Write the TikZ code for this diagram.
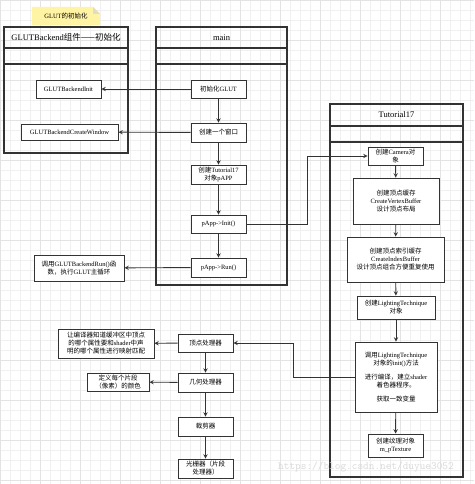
\documentclass[tikz,border=0pt]{standalone}
\usepackage{fontspec}
\setmainfont{Liberation Serif}
\newfontfamily\zhfont{Noto Sans CJK SC}
\newcommand{\zh}[1]{{\zhfont #1}}
\definecolor{notecol}{HTML}{FFF4A3}
\definecolor{inkcol}{HTML}{333333}
\tikzset{>=stealth}
\tikzset{
  box/.style={draw=inkcol, line width=0.9pt, fill=white, inner sep=1pt, align=center,
    font=\fontsize{6.5}{8}\selectfont},
  lane/.style={draw=inkcol, line width=1.2pt},
  lanetitle/.style={font=\fontsize{8.5}{10}\selectfont},
  flow/.style={->, draw=inkcol, line width=0.9pt},
}

\begin{document}
\begin{tikzpicture}[x=1pt,y=-1pt]
    \useasboundingbox (0,0) rectangle (474,484);
    \fill[white] (0,0) rectangle (474,484);
    \draw[gray!12, line width=0.3pt, step=10pt] (0,0) grid (474,484);
    \draw[gray!22, line width=0.3pt, step=40pt] (0,0) grid (474,484);
    % sticky note
    \fill[notecol] (32,7) -- (93,7) -- (100,14) -- (100,25) -- (32,25) -- cycle;
    \fill[notecol!70!black!40] (93,7) -- (100,14) -- (93,14) -- cycle;
    \node[font=\fontsize{6.5}{8}\selectfont] (note) at (66,16) {GLUT\zh{的初始化}};
    % swimlanes
    \draw[lane] (4,27) rectangle (128,153);
    \draw[lane] (4,48) -- (128,48);
    \draw[lane] (4,64) -- (128,64);
    \node[lanetitle] (backend) at (66,37.5) {GLUTBackend\zh{组件——初始化}};
    \draw[lane] (156,27) rectangle (287,285);
    \draw[lane] (156,48) -- (287,48);
    \draw[lane] (156,64) -- (287,64);
    \node[lanetitle] (mainlane) at (221.5,37.5) {main};
    \draw[lane] (330,104) rectangle (463,477);
    \draw[lane] (330,126) -- (463,126);
    \draw[lane] (330,142) -- (463,142);
    \node[lanetitle] (tutlane) at (396.5,115) {Tutorial17};
    % GLUTBackend
    \node[box, minimum width=65, minimum height=18] (backendinit) at (68.5,89) {GLUTBackendInit};
    \node[box, minimum width=97, minimum height=16] (createwin) at (69.5,132) {GLUTBackendCreateWindow};
    \node[box, minimum width=90, minimum height=26] (backendrun) at (79,268)
        {\zh{调用}GLUTBackendRun()\zh{函}\\\zh{数，执行}GLUT\zh{主循环}};
    % main
    \node[box, minimum width=55, minimum height=18] (glutinit) at (218.5,89) {\zh{初始化}GLUT};
    \node[box, minimum width=55, minimum height=19] (window) at (218.5,132.5) {\zh{创建一个窗口}};
    \node[box, minimum width=55, minimum height=19] (newapp) at (218.5,174.5) {\zh{创建}Tutorial17\\\zh{对象}pAPP};
    \node[box, minimum width=55, minimum height=18] (appinit) at (218.5,224) {pApp-\textgreater Init()};
    \node[box, minimum width=55, minimum height=19] (apprun) at (218.5,267.5) {pApp-\textgreater Run()};
    % Tutorial17
    \node[box, minimum width=55, minimum height=18] (camera) at (395.5,156) {\zh{创建}Camera\zh{对}\\\zh{象}};
    \node[box, minimum width=86, minimum height=46] (vbuf) at (396,201)
        {\zh{创建顶点缓存}\\CreateVertexBuffer\\\zh{设计顶点布局}};
    \node[box, minimum width=97, minimum height=45] (ibuf) at (395.5,259.5)
        {\zh{创建顶点索引缓存}\\CreateIndexBuffer\\\zh{设计顶点组合方便重复使用}};
    \node[box, minimum width=78, minimum height=23] (technique) at (396,307.5)
        {\zh{创建}LightingTechnique\\\zh{对象}};
    \node[box, minimum width=82, minimum height=70] (techinit) at (396,377)
        {\zh{调用}LightingTechnique\\\zh{对象的}init()\zh{方法}\\[6pt]\zh{进行编译，建立}shader\\\zh{着色器程序。}\\[6pt]\zh{获取一致变量}};
    \node[box, minimum width=55, minimum height=23] (texture) at (395.5,445.5) {\zh{创建纹理对象}\\m\_pTexture};
    % pipeline
    \node[box, minimum width=55, minimum height=18] (vertproc) at (205.5,343) {\zh{顶点处理器}};
    \node[box, minimum width=96, minimum height=29] (vertnote) at (106,343.5)
        {\zh{让编译器知道缓冲区中顶点}\\\zh{的哪个属性要和}shader\zh{中声}\\\zh{明的哪个属性进行映射匹配}};
    \node[box, minimum width=55, minimum height=19] (geomproc) at (205.5,382.5) {\zh{几何处理器}};
    \node[box, minimum width=62, minimum height=18] (geomnote) at (118,382) {\zh{定义每个片段}\\\zh{（像素）的颜色}};
    \node[box, minimum width=55, minimum height=19] (clipper) at (205.5,426.5) {\zh{裁剪器}};
    \node[box, minimum width=55, minimum height=19] (raster) at (205.5,468.5) {\zh{光栅器（片段}\\\zh{处理器）}};
    % connectors
    \draw[flow] (glutinit) -- (backendinit);
    \draw[flow] (window) -- (createwin);
    \draw[flow] (apprun) -- (backendrun);
    \draw[flow] (glutinit) -- (window);
    \draw[flow] (window) -- (newapp);
    \draw[flow] (newapp) -- (appinit);
    \draw[flow] (appinit) -- (apprun);
    \draw[flow] (appinit.east) -- ++(61,0) |- (camera.west);
    \draw[flow] (camera) -- (vbuf);
    \draw[flow] (vbuf) -- (ibuf);
    \draw[flow] (ibuf) -- (technique);
    \draw[flow] (technique) -- (techinit);
    \draw[flow] (techinit) -- (texture);
    \draw[flow] (techinit.west) -- ++(-61,0) |- (vertproc.east);
    \draw[flow] (vertproc) -- (vertnote);
    \draw[flow] (geomproc) -- (geomnote);
    \draw[flow] (vertproc) -- (geomproc);
    \draw[flow] (geomproc) -- (clipper);
    \draw[flow] (clipper) -- (raster);
    % watermark
    \node[text=gray!30, font=\ttfamily\fontsize{11}{12}\selectfont] (mark) at (366,467) {https://blog.csdn.net/duyue3052};
\end{tikzpicture}
\end{document}
